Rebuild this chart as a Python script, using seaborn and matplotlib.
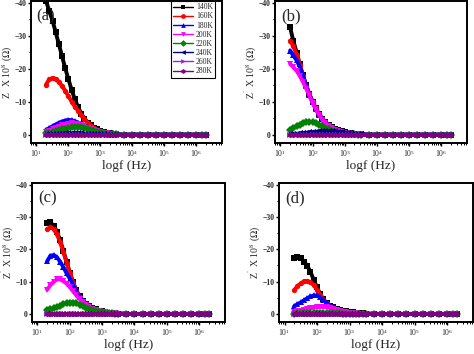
import numpy as np
import pandas as pd
import matplotlib
matplotlib.use("Agg")
import matplotlib.pyplot as plt
import matplotlib.ticker as mticker
import seaborn as sns

sns.set_theme(style="ticks")
plt.rcParams['font.family'] = ['Liberation Serif', 'DejaVu Serif']
plt.rcParams['mathtext.fontset'] = 'stix'

temps = ["140K", "160K", "180K", "200K", "220K", "240K", "260K", "280K"]
colors = ["#000000", "#FF0000", "#0000FF", "#FF00FF", "#008000", "#000080", "#8A2BE2", "#800080"]
markers = ["s", "o", "^", "v", "D", "<", ">", "h"]

# frequency grid (Hz): dense low-frequency part, then high-frequency tail
freq_low = [20, 25, 32, 40, 50, 63, 79, 100, 126, 158, 200, 251, 316, 398, 501,
            631, 794, 1000, 1259, 1585, 1995, 2512, 3162]
freq_tail = [5623, 10000, 17783, 31623, 56234, 100000, 177828, 316228, 562341,
             1000000, 1500000, 2000000]
tail_vals = [0, 0, 0, 0, 0, 0, 0, 0, 0, 0, 0, 0]
flat_zero = [0, 0, 0, 0, 0, 0, 0, 0, 0, 0, 0, 0, 0, 0, 0, 0, 0, 0, 0, 0, 0, 0, 0]

# panel (a)  Z'' x 1e8 (Ohm)
a_140 = [-40.5, -37.5, -34.5, -31.0, -27.5, -23.8, -20.2, -16.8, -13.6, -10.8, -8.4, -6.4, -4.9,
         -3.7, -2.8, -2.1, -1.6, -1.2, -0.9, -0.65, -0.45, -0.3, -0.18]
a_160 = [-15.2, -16.8, -17.2, -16.8, -16.0, -14.8, -13.3, -11.7, -10.0, -8.5, -7.3, -6.1, -4.8,
         -3.65, -2.75, -2.05, -1.55, -1.15, -0.85, -0.62, -0.42, -0.28, -0.16]
a_180 = [-1.5, -2.0, -2.6, -3.1, -3.6, -4.0, -4.3, -4.5, -4.4, -4.1, -3.7, -3.3, -2.8,
         -2.3, -1.85, -1.45, -1.1, -0.82, -0.6, -0.44, -0.32, -0.21, -0.12]
a_200 = [-0.9, -1.2, -1.6, -2.0, -2.4, -2.8, -3.1, -3.4, -3.5, -3.4, -3.2, -2.9, -2.5,
         -2.1, -1.7, -1.35, -1.02, -0.76, -0.55, -0.4, -0.29, -0.19, -0.11]
a_220 = [-0.4, -0.6, -0.8, -1.0, -1.3, -1.6, -1.8, -2.0, -2.2, -2.3, -2.3, -2.2, -2.0,
         -1.8, -1.5, -1.2, -0.9, -0.7, -0.5, -0.35, -0.25, -0.15, -0.1]
a_240 = [-0.1, -0.15, -0.2, -0.25, -0.3, -0.35, -0.4, -0.4, -0.45, -0.45, -0.45, -0.4, -0.35,
         -0.3, -0.25, -0.2, -0.15, -0.1, -0.1, -0.05, -0.05, 0, 0]
a_260 = flat_zero
a_280 = flat_zero

# panel (b)
b_140 = [-32.5, -28.5, -24.8, -21.3, -18.0, -15.0, -12.3, -10.0, -8.0, -6.3, -4.9, -3.8, -2.9,
         -2.2, -1.7, -1.3, -1.0, -0.75, -0.55, -0.4, -0.3, -0.2, -0.12]
b_160 = [-28.5, -26.8, -24.2, -21.1, -17.9, -14.9, -12.2, -9.9, -7.9, -6.2, -4.8, -3.7, -2.85,
         -2.15, -1.65, -1.25, -0.95, -0.72, -0.52, -0.38, -0.28, -0.18, -0.1]
b_180 = [-25.5, -24.0, -22.5, -20.5, -17.8, -14.8, -12.1, -9.8, -7.8, -6.1, -4.7, -3.65, -2.8,
         -2.1, -1.6, -1.2, -0.92, -0.7, -0.5, -0.36, -0.26, -0.17, -0.1]
b_200 = [-21.5, -20.5, -19.3, -17.8, -16.0, -14.0, -11.9, -9.6, -7.7, -6.0, -4.6, -3.6, -2.75,
         -2.05, -1.55, -1.15, -0.88, -0.66, -0.48, -0.34, -0.25, -0.16, -0.1]
b_220 = [-1.5, -2.0, -2.6, -3.1, -3.5, -3.8, -3.9, -3.9, -3.6, -3.1, -2.6, -2.1, -1.6,
         -1.2, -0.9, -0.65, -0.45, -0.3, -0.2, -0.12, -0.08, -0.05, -0.03]
b_240 = [-0.2, -0.25, -0.3, -0.4, -0.5, -0.6, -0.7, -0.8, -0.9, -1.0, -1.05, -1.1, -1.1,
         -1.05, -1.0, -0.9, -0.75, -0.6, -0.45, -0.35, -0.25, -0.15, -0.1]
b_260 = flat_zero
b_280 = flat_zero

# panel (c)
c_140 = [-28.2, -28.3, -27.3, -25.4, -22.8, -19.6, -16.2, -12.8, -9.8, -7.3, -5.4, -4.0, -3.0,
         -2.3, -1.8, -1.4, -1.05, -0.8, -0.58, -0.42, -0.3, -0.2, -0.12]
c_160 = [-26.3, -26.8, -26.2, -24.6, -22.2, -19.2, -15.9, -12.6, -9.7, -7.2, -5.3, -3.95, -2.95,
         -2.25, -1.75, -1.35, -1.02, -0.77, -0.56, -0.4, -0.29, -0.19, -0.11]
c_180 = [-16.3, -18.0, -18.2, -17.5, -16.2, -14.5, -12.6, -10.9, -9.1, -7.0, -5.2, -3.9, -2.9,
         -2.2, -1.7, -1.3, -1.0, -0.75, -0.54, -0.39, -0.28, -0.18, -0.1]
c_200 = [-7.5, -8.9, -10.0, -10.7, -10.7, -10.2, -9.4, -8.3, -7.0, -5.8, -4.6, -3.6, -2.75,
         -2.1, -1.62, -1.25, -0.95, -0.7, -0.5, -0.36, -0.26, -0.17, -0.1]
c_220 = [-1.1, -1.4, -1.8, -2.2, -2.6, -3.0, -3.3, -3.5, -3.5, -3.3, -2.9, -2.4, -1.9,
         -1.5, -1.1, -0.8, -0.6, -0.45, -0.33, -0.24, -0.17, -0.11, -0.07]
c_240 = flat_zero
c_260 = flat_zero
c_280 = flat_zero

# panel (d)
d_140 = [-17.2, -17.6, -17.2, -16.2, -14.9, -13.0, -10.6, -8.2, -6.1, -4.5, -3.4, -2.6, -2.0,
         -1.6, -1.25, -0.98, -0.77, -0.6, -0.45, -0.34, -0.25, -0.17, -0.1]
d_160 = [-7.4, -8.6, -9.5, -10.1, -10.2, -9.8, -8.9, -7.5, -5.9, -4.4, -3.3, -2.55, -1.95,
         -1.55, -1.22, -0.95, -0.74, -0.58, -0.43, -0.32, -0.23, -0.16, -0.09]
d_180 = [-2.4, -3.0, -3.6, -4.2, -4.8, -5.4, -5.7, -5.7, -5.1, -4.2, -3.3, -2.6, -2.0,
         -1.55, -1.2, -0.94, -0.73, -0.57, -0.43, -0.31, -0.22, -0.15, -0.09]
d_200 = [-0.6, -0.8, -1.0, -1.25, -1.5, -1.75, -1.95, -2.1, -2.2, -2.2, -2.05, -1.8, -1.5,
         -1.2, -0.9, -0.65, -0.45, -0.3, -0.2, -0.13, -0.08, -0.05, -0.03]
d_220 = [-0.1, -0.15, -0.2, -0.25, -0.3, -0.35, -0.4, -0.4, -0.4, -0.4, -0.35, -0.3, -0.25,
         -0.2, -0.15, -0.1, -0.08, -0.05, -0.03, -0.02, -0.01, 0, 0]
d_240 = flat_zero
d_260 = flat_zero
d_280 = flat_zero

panels = {
    "(a)": [a_140, a_160, a_180, a_200, a_220, a_240, a_260, a_280],
    "(b)": [b_140, b_160, b_180, b_200, b_220, b_240, b_260, b_280],
    "(c)": [c_140, c_160, c_180, c_200, c_220, c_240, c_260, c_280],
    "(d)": [d_140, d_160, d_180, d_200, d_220, d_240, d_260, d_280],
}

W, H = 474, 354
fig = plt.figure(figsize=(W / 100, H / 100), dpi=100)

def rect(l, t, r, b):
    return [l / W, 1 - b / H, (r - l) / W, (b - t) / H]

positions = {
    "(a)": rect(31, 1, 222, 143),
    "(b)": rect(275, 1, 467, 143),
    "(c)": rect(32, 183, 225, 322),
    "(d)": rect(279, 183, 473, 322),
}
# label right edge in pixels (left of the tick labels)
ylabel_right = {"(a)": 14, "(b)": 258, "(c)": 15, "(d)": 262}

freq_all = freq_low + freq_tail
palette = dict(zip(temps, colors))
marker_map = dict(zip(temps, markers))

for name, series in panels.items():
    ax = fig.add_axes(positions[name])
    rows = []
    for t, vals in zip(temps, series):
        for f, v in zip(freq_all, list(vals) + tail_vals):
            rows.append((t, f, v))
    df = pd.DataFrame(rows, columns=["T", "f", "Z"])
    sns.lineplot(data=df, x="f", y="Z", hue="T", style="T", hue_order=temps,
                 style_order=temps, palette=palette, markers=marker_map, dashes=False,
                 linewidth=2.8, markersize=3.8, markeredgewidth=0, ax=ax,
                 legend=(name == "(a)"), sort=False)
    ax.set_xscale("log")
    ax.set_xlim(10 ** 0.83, 10 ** 6.8)
    ax.set_ylim(2.5, -40.5)
    ax.set_yticks([-40, -30, -20, -10, 0])
    ax.yaxis.set_minor_locator(mticker.MultipleLocator(5))
    ax.xaxis.set_major_locator(mticker.LogLocator(base=10, numticks=10))
    ax.xaxis.set_minor_locator(mticker.LogLocator(base=10, subs=np.arange(2, 10), numticks=20))
    ax.tick_params(axis="both", which="major", direction="out", length=2.5, width=1,
                   labelsize=5.5, pad=1, color="black")
    ax.tick_params(axis="both", which="minor", direction="out", length=1.5, width=0.7,
                   color="black")
    for lab in ax.get_yticklabels():
        lab.set_fontweight("bold")
    for s in ax.spines.values():
        s.set_linewidth(1.4)
        s.set_color("black")
    ax.set_xlabel("logf (Hz)", fontsize=9.5, labelpad=0.5)
    ax.set_ylabel(r"Z$^{''}$ X 10$^{8}$ ($\Omega$)", fontsize=7)
    l, b, w, h = positions[name]
    ax.yaxis.set_label_coords((ylabel_right[name] / W - l) / w, 0.5)
    ax.text(0.03, 0.95, name, transform=ax.transAxes, fontsize=12, va="top", ha="left")
    if name == "(a)":
        leg = ax.legend(loc="upper right", bbox_to_anchor=(0.965, 1.0), borderaxespad=0,
                        fontsize=5.5, frameon=True, fancybox=False, framealpha=1,
                        edgecolor="black", handlelength=2.6, labelspacing=0.15,
                        borderpad=0.3, handletextpad=0.4, markerscale=0.9)
        leg.get_frame().set_linewidth(0.8)
        for h in leg.legend_handles:
            h.set_linewidth(1.0)

fig.savefig("out.png", dpi=100)
